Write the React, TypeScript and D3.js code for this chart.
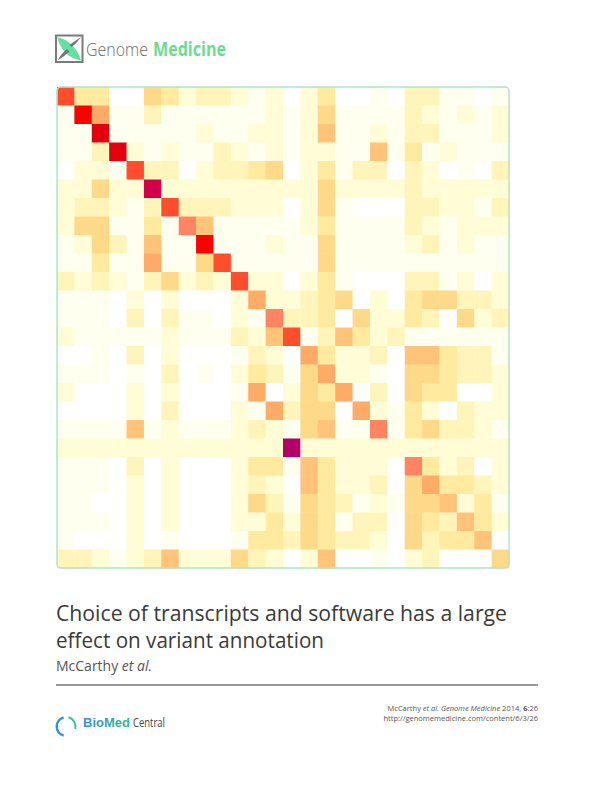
import React from "react";
import * as d3 from "d3";

// heat levels 0..13 (0 = white, 13 = deep magenta)
const LEVELS = [0, 1, 2, 3, 4, 5, 6, 7, 8, 9, 10, 11, 12, 13];
const PALETTE = [
  "#ffffff", "#fffff0", "#fffcd6", "#fff5bb", "#ffeaa0", "#ffd98a", "#ffc479",
  "#ffab68", "#ff8462", "#ff4d2e", "#ff0000", "#e3000f", "#d10048", "#b30068",
];

const ROW_00 = [9, 4, 4, 0, 0, 5, 4, 2, 3, 3, 2, 1, 2, 0, 2, 4, 0, 0, 1, 0, 3, 3, 1, 1, 0, 1];
const ROW_01 = [1, 10, 7, 1, 1, 3, 1, 1, 1, 1, 1, 1, 2, 1, 2, 5, 1, 1, 1, 1, 3, 2, 1, 2, 1, 2];
const ROW_02 = [1, 1, 11, 1, 1, 1, 1, 1, 2, 1, 1, 2, 2, 1, 2, 6, 1, 1, 2, 1, 3, 3, 1, 1, 1, 2];
const ROW_03 = [1, 1, 3, 11, 2, 1, 2, 1, 1, 3, 2, 1, 2, 1, 2, 2, 1, 1, 6, 1, 4, 1, 2, 1, 1, 1];
const ROW_04 = [0, 2, 2, 1, 9, 3, 3, 0, 2, 3, 3, 4, 5, 0, 2, 4, 1, 3, 3, 0, 3, 2, 0, 1, 0, 3];
const ROW_05 = [2, 2, 5, 2, 2, 12, 2, 2, 2, 2, 2, 2, 2, 2, 2, 5, 2, 2, 2, 2, 3, 2, 2, 2, 2, 2];
const ROW_06 = [2, 3, 3, 2, 1, 3, 9, 3, 3, 3, 2, 2, 2, 0, 2, 5, 1, 0, 0, 0, 3, 3, 2, 2, 1, 3];
const ROW_07 = [2, 5, 5, 1, 1, 4, 1, 8, 6, 1, 1, 1, 1, 1, 2, 4, 1, 1, 1, 1, 3, 2, 1, 2, 2, 2];
const ROW_08 = [1, 2, 5, 3, 1, 6, 1, 1, 10, 1, 1, 1, 2, 1, 1, 5, 1, 1, 1, 1, 2, 3, 1, 2, 1, 1];
const ROW_09 = [1, 1, 4, 1, 1, 7, 1, 1, 5, 9, 1, 1, 1, 1, 1, 5, 1, 1, 1, 1, 1, 1, 1, 1, 1, 1];
const ROW_10 = [3, 2, 3, 2, 1, 3, 5, 2, 3, 2, 9, 2, 2, 0, 2, 4, 1, 0, 0, 0, 3, 3, 1, 2, 0, 2];
const ROW_11 = [1, 1, 1, 0, 2, 0, 2, 0, 0, 0, 2, 7, 2, 2, 3, 4, 5, 0, 2, 0, 4, 5, 5, 3, 3, 2];
const ROW_12 = [1, 1, 1, 0, 3, 0, 3, 1, 1, 0, 2, 1, 8, 3, 3, 4, 0, 5, 2, 2, 4, 3, 0, 5, 2, 3];
const ROW_13 = [2, 1, 1, 1, 1, 1, 2, 1, 1, 1, 3, 2, 6, 9, 1, 3, 6, 4, 2, 3, 1, 1, 1, 1, 1, 1];
const ROW_14 = [0, 0, 1, 0, 3, 0, 2, 0, 0, 0, 1, 3, 2, 0, 7, 4, 2, 2, 3, 0, 6, 6, 4, 3, 3, 1];
const ROW_15 = [1, 1, 1, 0, 1, 0, 3, 0, 1, 0, 2, 4, 3, 1, 5, 7, 2, 2, 1, 0, 5, 5, 4, 3, 3, 2];
const ROW_16 = [2, 0, 0, 0, 2, 0, 2, 0, 0, 0, 1, 7, 0, 2, 5, 4, 7, 0, 3, 0, 5, 4, 4, 0, 0, 2];
const ROW_17 = [0, 0, 0, 0, 2, 0, 3, 0, 0, 0, 2, 1, 7, 3, 5, 5, 0, 7, 2, 1, 4, 2, 0, 3, 2, 2];
const ROW_18 = [1, 1, 1, 1, 6, 1, 2, 1, 1, 1, 2, 3, 2, 1, 5, 6, 1, 1, 8, 1, 4, 5, 3, 3, 2, 1];
const ROW_19 = [2, 2, 2, 2, 2, 2, 2, 2, 2, 2, 2, 2, 2, 13, 2, 2, 2, 2, 2, 2, 2, 2, 2, 2, 2, 2];
const ROW_20 = [1, 1, 1, 0, 3, 0, 2, 0, 0, 0, 2, 4, 4, 1, 6, 4, 2, 2, 2, 0, 8, 4, 2, 3, 0, 2];
const ROW_21 = [1, 1, 1, 0, 2, 0, 2, 0, 0, 0, 2, 3, 2, 0, 6, 4, 2, 2, 3, 0, 5, 7, 4, 4, 3, 2];
const ROW_22 = [1, 1, 0, 0, 2, 0, 2, 0, 0, 0, 2, 5, 3, 1, 5, 4, 3, 1, 2, 1, 5, 5, 6, 2, 4, 1];
const ROW_23 = [1, 1, 1, 0, 2, 0, 2, 0, 0, 0, 2, 2, 4, 2, 5, 4, 1, 3, 3, 0, 5, 4, 3, 6, 4, 2];
const ROW_24 = [1, 0, 0, 0, 2, 0, 1, 0, 0, 0, 1, 4, 4, 3, 5, 4, 3, 3, 2, 0, 5, 3, 4, 4, 6, 0];
const ROW_25 = [3, 3, 2, 1, 2, 3, 6, 2, 2, 2, 5, 3, 2, 0, 2, 6, 0, 0, 1, 0, 2, 3, 0, 0, 0, 5];

const MATRIX = [
  ROW_00, ROW_01, ROW_02, ROW_03, ROW_04, ROW_05, ROW_06, ROW_07, ROW_08, ROW_09,
  ROW_10, ROW_11, ROW_12, ROW_13, ROW_14, ROW_15, ROW_16, ROW_17, ROW_18, ROW_19,
  ROW_20, ROW_21, ROW_22, ROW_23, ROW_24, ROW_25,
];

const TITLE_1 = "Choice of transcripts and software has a large";
const TITLE_2 = "effect on variant annotation";

export default function App() {
  const idx = d3.range(MATRIX.length);
  const gx0 = 57, gx1 = 509, gy0 = 87, gy1 = 568;
  const x = d3.scaleBand<number>().domain(idx).range([gx0, gx1]).padding(0);
  const y = d3.scaleBand<number>().domain(idx).range([gy0, gy1]).padding(0);
  const color = d3.scaleLinear<string>().domain(LEVELS).range(PALETTE).interpolate(d3.interpolateRgb);

  const arc = d3.arc();
  const blueArc = arc({ innerRadius: 8, outerRadius: 10.5, startAngle: (-165 * Math.PI) / 180, endAngle: (-15 * Math.PI) / 180 }) as string;
  const greenArc = arc({ innerRadius: 8.6, outerRadius: 10.5, startAngle: (15 * Math.PI) / 180, endAngle: (105 * Math.PI) / 180 }) as string;

  const font = "'Open Sans', 'Liberation Sans', sans-serif";

  return (
    <div style={{ position: "absolute", left: 0, top: 0 }}>
      <svg width={595} height={794} viewBox="0 0 595 794" style={{ display: "block", background: "#fff" }}>
        <defs>
          <linearGradient id="bmc" x1="0" x2="1" y1="0" y2="0">
            <stop offset="0" stopColor="#3a8fd6" />
            <stop offset="1" stopColor="#34b98a" />
          </linearGradient>
        </defs>
        {/* Genome Medicine logo */}
        <rect x={56} y={35.5} width={26.5} height={26.5} fill="#fff" stroke="#7a7a7a" strokeWidth={2} />
        <path d="M57.5,37 C70,40 78,50 81,60.5 C68,58 60,50 57.5,37 Z" fill="#66e0a0" />
        <path d="M57.5,60.5 C60,56 63,52 67,49 L69.5,51.5 C65.5,55 61.5,58 57.5,60.5 Z" fill="#777" />
        <path d="M81,37 C78,41.5 75,44.5 71.5,47 L69.5,45 C73,42.5 77,39.5 81,37 Z" fill="#777" />
        <text x={86} y={56} fontFamily={font} fontWeight={300} fontSize={19} fill="#6a6a6a" textLength={62} lengthAdjust="spacingAndGlyphs">Genome</text>
        <text x={153} y={56} fontFamily={font} fontWeight={700} fontSize={19} fill="#6ddc93" textLength={73} lengthAdjust="spacingAndGlyphs">Medicine</text>

        {/* heatmap */}
        <g>
          {MATRIX.map((row, r) =>
            row.map((v, c) => (
              <rect
                key={`${r}-${c}`}
                x={x(c)}
                y={y(r)}
                width={x.bandwidth() + 0.4}
                height={y.bandwidth() + 0.4}
                fill={color(v)}
              />
            ))
          )}
        </g>
        <rect x={gx0} y={gy0} width={gx1 - gx0} height={gy1 - gy0} rx={4} fill="none" stroke="#b4e4c4" strokeWidth={1.5} />

        {/* title */}
        <text x={56} y={621} fontFamily={font} fontSize={22} fill="#3a3a3a" textLength={451} lengthAdjust="spacingAndGlyphs">{TITLE_1}</text>
        <text x={56} y={648} fontFamily={font} fontSize={22} fill="#3a3a3a" textLength={268} lengthAdjust="spacingAndGlyphs">{TITLE_2}</text>
        <text x={56} y={671} fontFamily={font} fontSize={14} fill="#555">
          McCarthy <tspan fontStyle="italic">et al.</tspan>
        </text>
        <line x1={56} x2={538} y1={685} y2={685} stroke="#333" strokeWidth={1.2} />

        {/* citation */}
        <text x={538} y={711} textAnchor="end" fontFamily={font} fontSize={7.5} fill="#555">
          McCarthy <tspan fontStyle="italic">et al. Genome Medicine</tspan> 2014, <tspan fontWeight={700}>6</tspan>:26
        </text>
        <text x={538} y={721} textAnchor="end" fontFamily={font} fontSize={7.5} fill="#555">
          http://genomemedicine.com/content/6/3/26
        </text>

        {/* BioMed Central logo */}
        <g transform="translate(66,726.5)">
          <path d={blueArc} fill="#3a8fd6" />
          <path d={greenArc} fill="#3cc08c" />
        </g>
        <text x={83} y={727} fontFamily="'Liberation Sans', Arial, sans-serif" fontWeight={700} fontSize={13} fill="url(#bmc)" textLength={47} lengthAdjust="spacingAndGlyphs">BioMed</text>
        <text x={133} y={727} fontFamily={font} fontSize={12.5} fill="#444" textLength={32} lengthAdjust="spacingAndGlyphs">Central</text>
      </svg>
    </div>
  );
}
